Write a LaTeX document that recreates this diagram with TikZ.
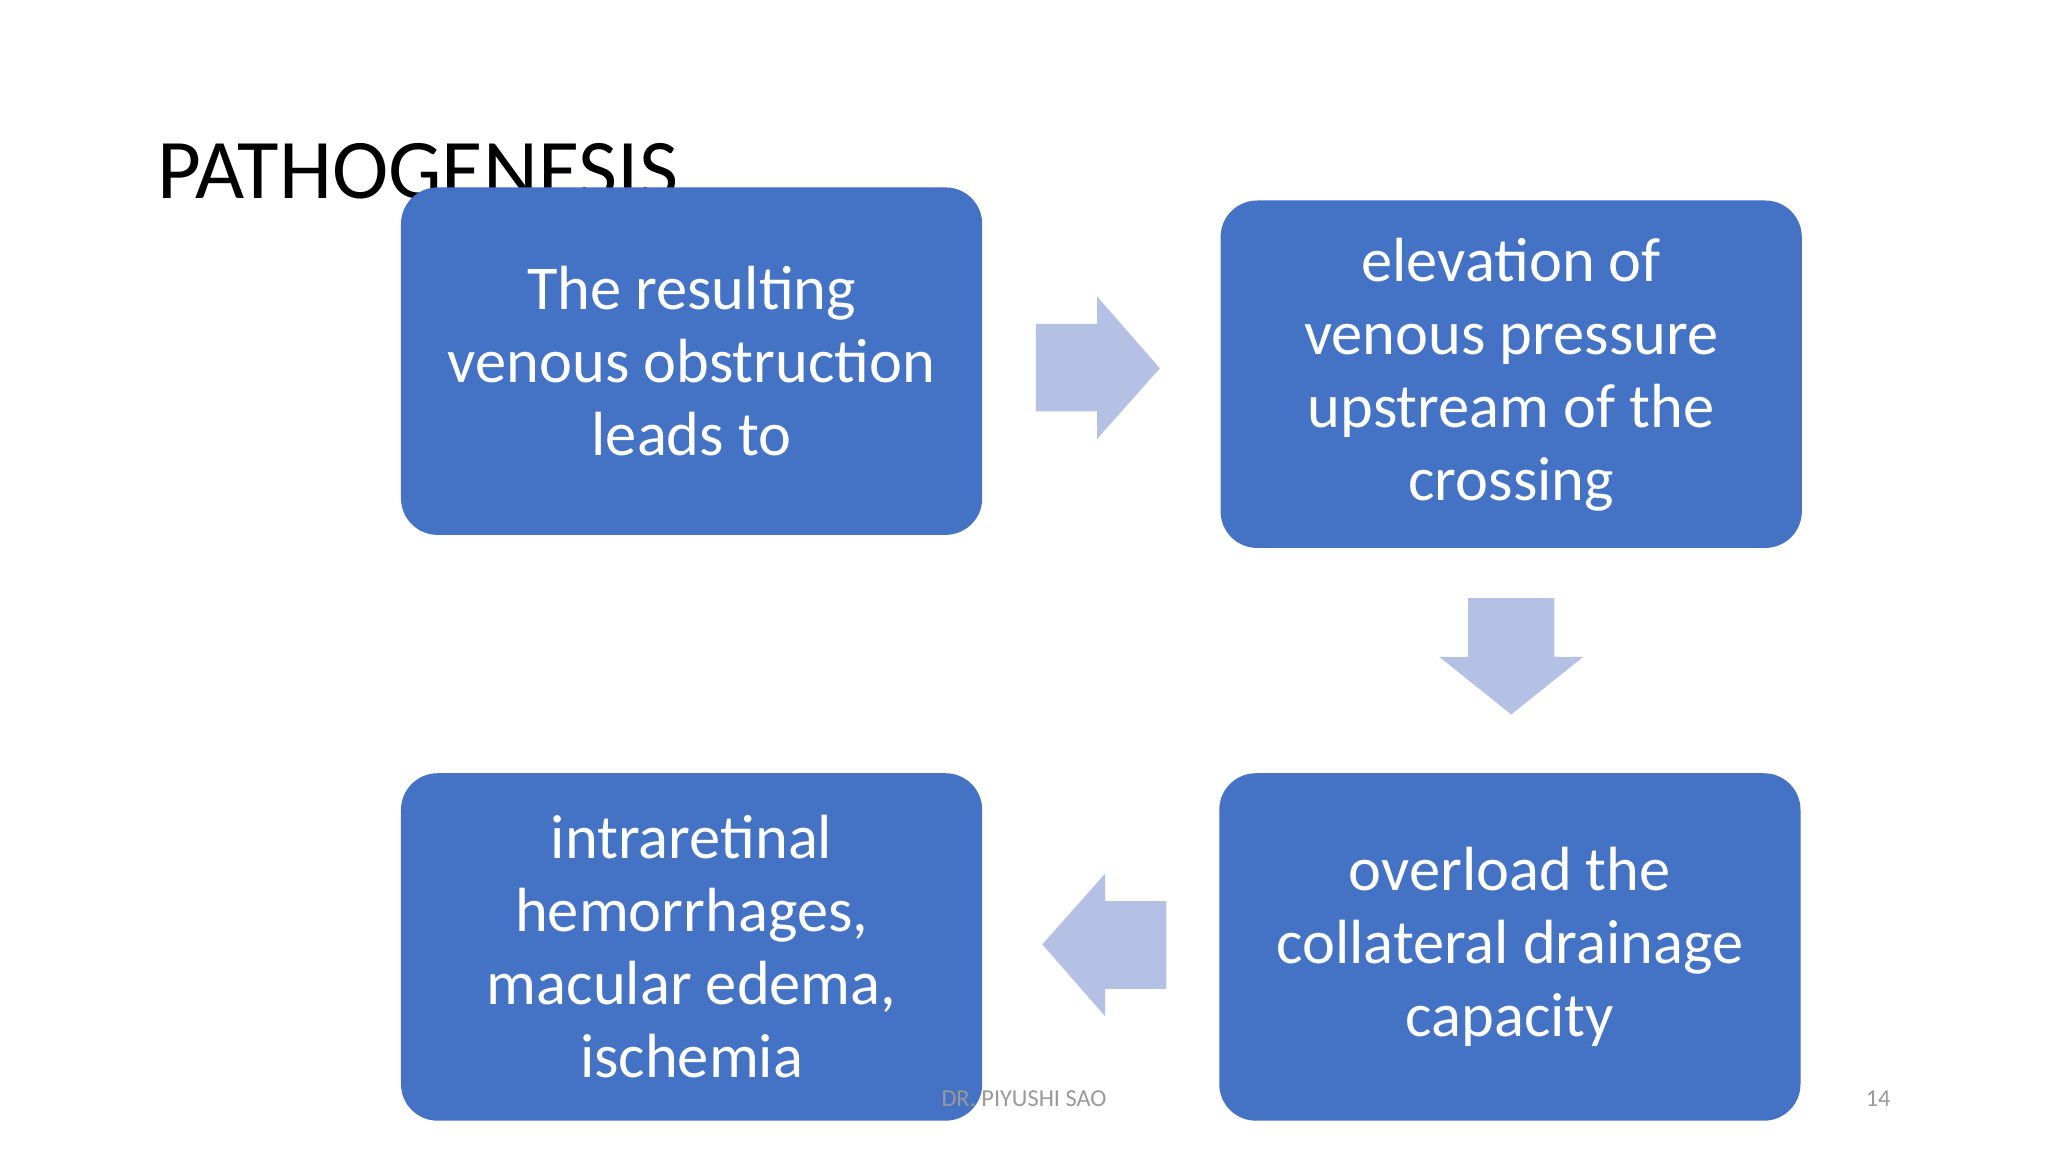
\documentclass[tikz,border=0pt]{standalone}
\usepackage{fontspec}
\setmainfont{Carlito}
\usetikzlibrary{positioning}
\definecolor{boxblue}{RGB}{68, 114, 196}
\definecolor{arrowblue}{RGB}{180, 192, 228}
\begin{document}
\begin{tikzpicture}[
    stage/.style={rectangle, rounded corners=0.28cm, fill=boxblue, text=white,
                 minimum width=4.45cm, minimum height=2.66cm, align=center,
                 font=\fontsize{13.6}{15.9}\selectfont},
    flow/.style={fill=arrowblue, draw=none}]
    \useasboundingbox (0,0) rectangle (15.68,8.82);

    % Title
    \node[anchor=base west, inner sep=0, font=\fontsize{18.5}{20}\selectfont] (title) at (1.20,7.30) {PATHOGENESIS};

    % Stages
    \node[stage] (s1) at (5.295,6.055) {The resulting\\venous obstruction\\leads to};
    \node[stage] (s2) at (11.57,5.955) {elevation of\\venous pressure\\upstream of the\\crossing};
    \node[stage] (s3) at (11.56,1.57) {overload the\\collateral drainage\\capacity};
    \node[stage] (s4) at (5.295,1.57) {intraretinal\\hemorrhages,\\macular edema,\\ischemia};

    % Arrows
    \fill[flow] (7.93,6.34) -- (8.40,6.34) -- (8.40,6.55) -- (8.88,6.00) -- (8.40,5.46) -- (8.40,5.67) -- (7.93,5.67) -- cycle;
    \fill[flow] (11.24,4.24) -- (11.90,4.24) -- (11.90,3.79) -- (12.12,3.79) -- (11.57,3.35) -- (11.02,3.79) -- (11.24,3.79) -- cycle;
    \fill[flow] (8.93,1.92) -- (8.46,1.92) -- (8.46,2.13) -- (7.98,1.59) -- (8.46,1.04) -- (8.46,1.25) -- (8.93,1.25) -- cycle;

    % Footer
    \node[text=gray!80, font=\fontsize{5.3}{6}\selectfont] (author) at (7.84,0.41) {DR. PIYUSHI SAO};
    \node[text=gray!80, font=\fontsize{5.3}{6}\selectfont] (page) at (14.38,0.41) {14};
\end{tikzpicture}
\end{document}
